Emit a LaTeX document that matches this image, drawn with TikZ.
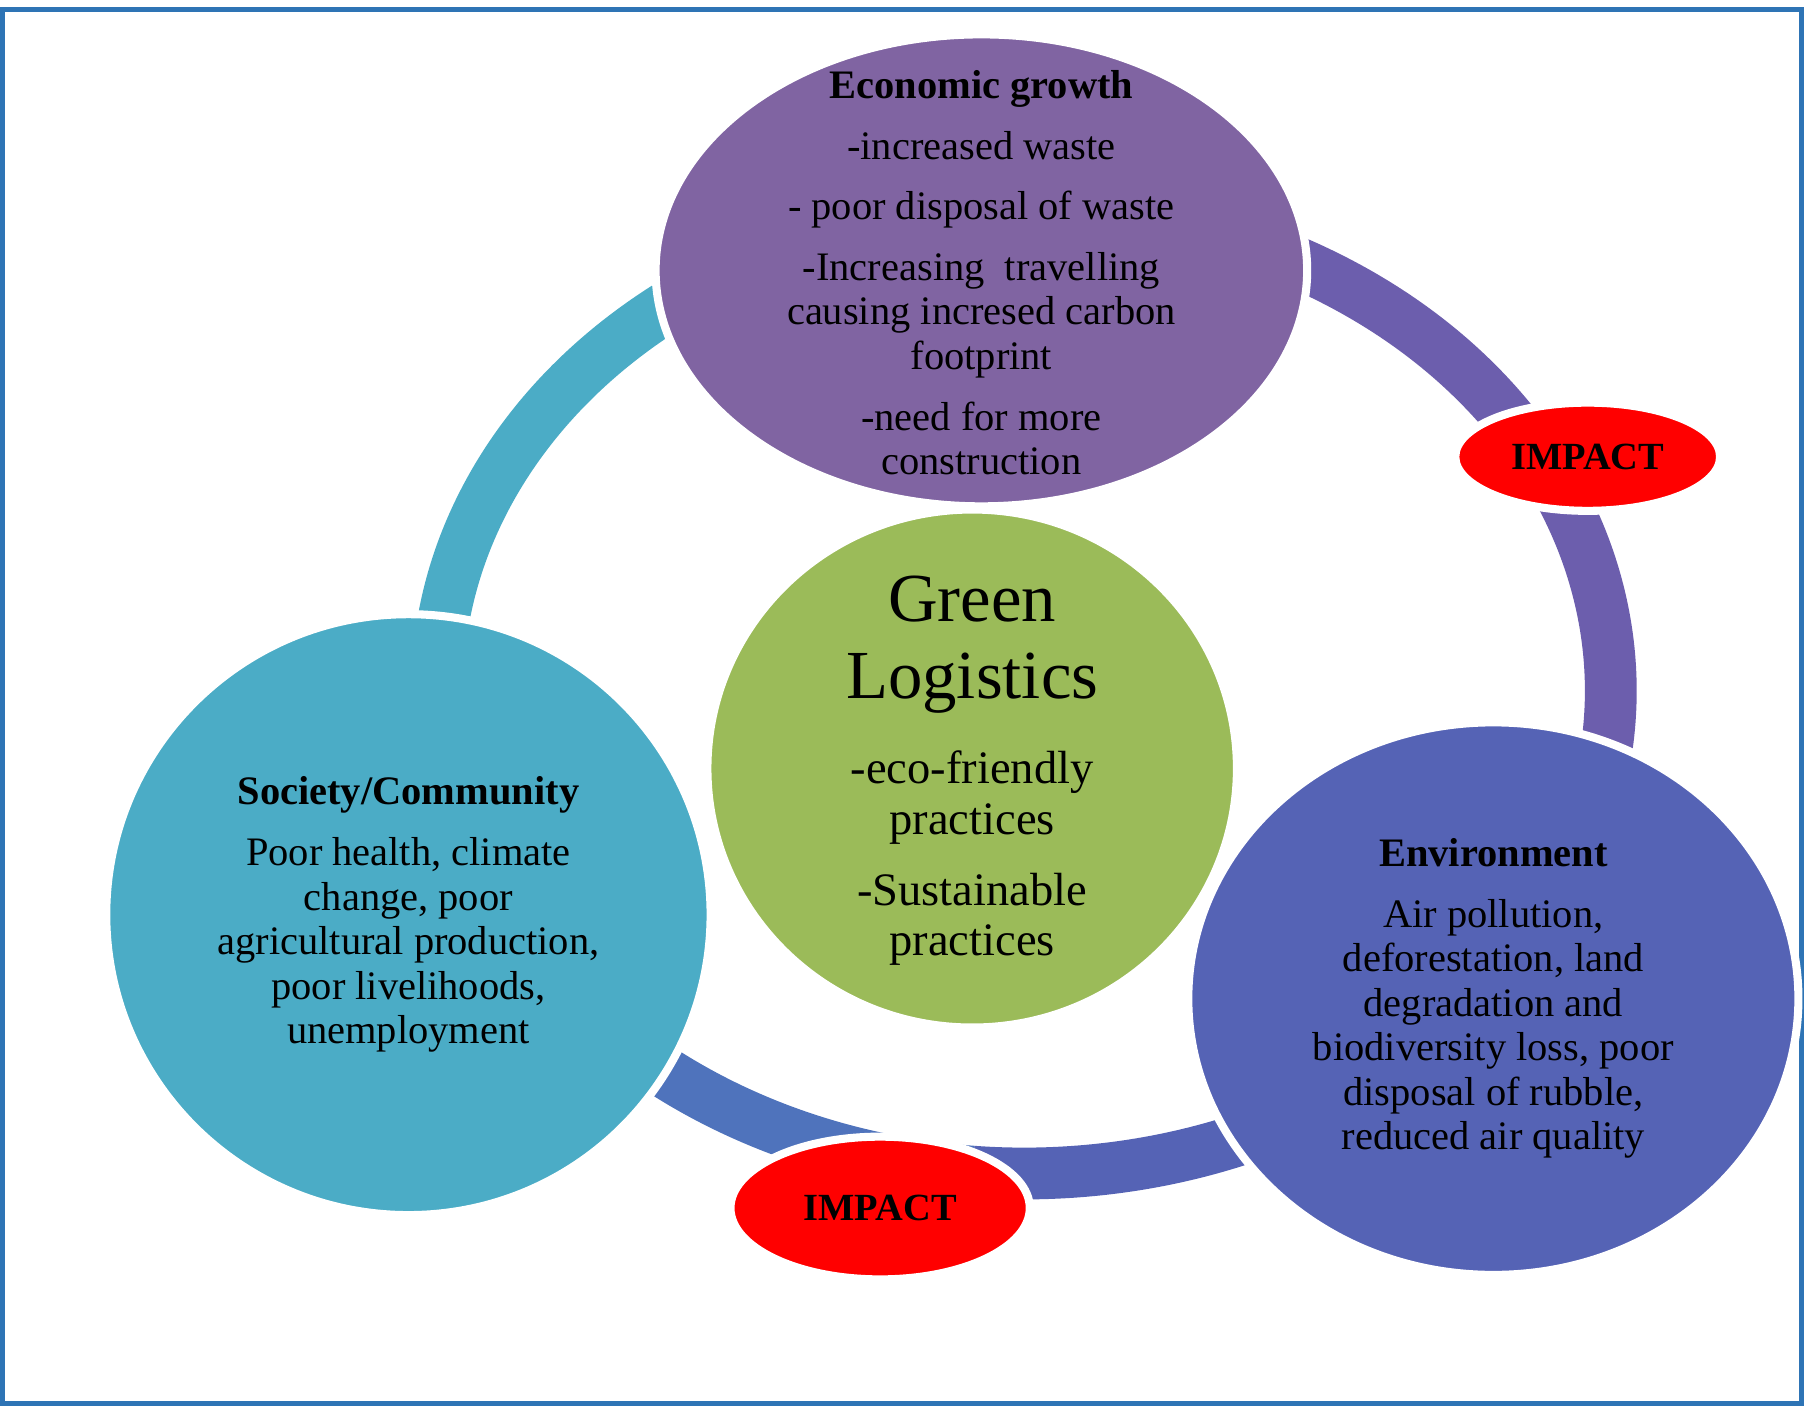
\documentclass[tikz,border=0pt]{standalone}
\usepackage{fontspec}
\setmainfont{Liberation Serif}
\usetikzlibrary{shapes.geometric}
\definecolor{ecop}{HTML}{8064A2}
\definecolor{teal}{HTML}{4BACC6}
\definecolor{grn}{HTML}{9BBB59}
\definecolor{envb}{HTML}{5563B5}
\definecolor{ringb}{HTML}{4F73BC}
\definecolor{ringp}{HTML}{6C5EAD}
\definecolor{frame}{HTML}{2E74B5}
\tikzset{
 blob/.style={ellipse,draw=white,line width=2pt,inner sep=0pt},
 txt/.style={align=center,font=\fontsize{10pt}{11pt}\selectfont},
 imp/.style={ellipse,draw=white,line width=2pt,fill=red,font=\bfseries\fontsize{9.5pt}{11pt}\selectfont,minimum width=2.3cm,minimum height=0.94cm},
 ring/.style={line width=0.45cm}
}
\begin{document}
\begin{tikzpicture}[x=0.01cm,y=-0.01cm]
\useasboundingbox (0,0) rectangle (1568,1240);
\draw[frame,line width=1.2pt] (2,8) rectangle (1566,1220);
\draw[ring,teal] (890,600) ++(-100:510 and 420) arc[start angle=-100,end angle=-205,x radius=510,y radius=420];
\draw[ring,ringb] (890,600) ++(-205:510 and 420) arc[start angle=-205,end angle=-265,x radius=510,y radius=420];
\draw[ring,envb] (890,600) ++(-265:510 and 420) arc[start angle=-265,end angle=-330,x radius=510,y radius=420];
\draw[ring,ringp] (890,600) ++(-330:510 and 420) arc[start angle=-330,end angle=-460,x radius=510,y radius=420];
\node[blob,fill=ecop,minimum width=5.66cm,minimum height=4.1cm] (eco) at (853,235) {};
\node[txt] (ecot) at (853,237) {\textbf{Economic growth}\\[4pt]-increased waste\\[4pt]- poor disposal of waste\\[4pt]-Increasing\ \ travelling\\causing incresed carbon\\footprint\\[4pt]-need for more\\construction};
\node[blob,fill=grn,minimum width=4.6cm,minimum height=4.5cm] (gl) at (845,668) {};
\node[align=center,font=\fontsize{17pt}{19pt}\selectfont] (glt) at (845,560) {Green\\Logistics};
\node[align=center,font=\fontsize{11.5pt}{12.5pt}\selectfont] (gls) at (845,746) {-eco-friendly\\practices\\[5pt]-Sustainable\\practices};
\node[blob,fill=teal,minimum width=5.25cm,minimum height=5.22cm] (soc) at (355,795) {};
\node[txt] (soct) at (355,795) {\textbf{Society/Community}\\[4pt]Poor health, climate\\change, poor\\agricultural production,\\poor livelihoods,\\unemployment};
\node[blob,fill=envb,minimum width=5.3cm,minimum height=4.8cm] (env) at (1298,868) {};
\node[txt] (envt) at (1298,868) {\textbf{Environment}\\[4pt]Air pollution,\\deforestation, land\\degradation and\\biodiversity loss, poor\\disposal of rubble,\\reduced air quality};
\node[imp] (i1) at (1380,397) {IMPACT};
\node[imp,minimum width=2.6cm,minimum height=1.24cm] (i2) at (765,1050) {IMPACT};
\end{tikzpicture}
\end{document}
